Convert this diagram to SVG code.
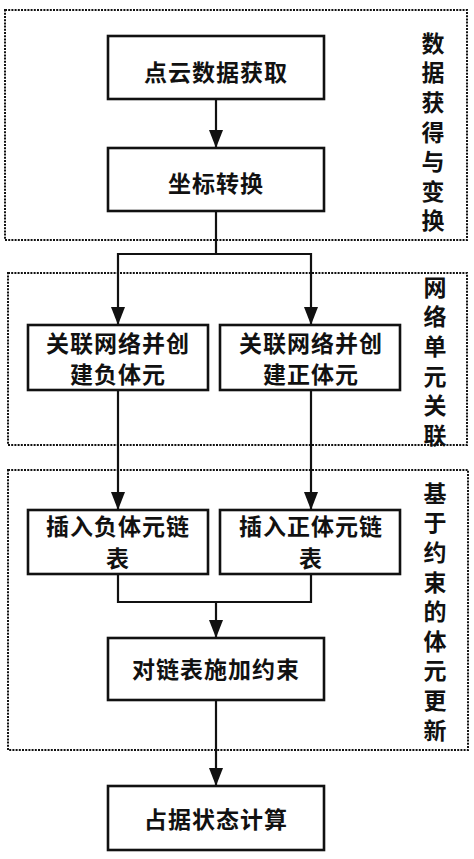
<svg xmlns="http://www.w3.org/2000/svg" width="474" height="859" viewBox="0 0 474 859">
<style>
.bg{fill:#fff}
.grp{fill:none;stroke:#111;stroke-width:2;stroke-dasharray:2 1.2}
.box{fill:#fff;stroke:#111;stroke-width:2.6}
.t{font-family:"Noto Sans CJK SC","Noto Sans",sans-serif;font-weight:bold;font-size:23px;letter-spacing:1px;fill:#111;text-anchor:middle;dominant-baseline:central}
.v{font-family:"Noto Sans CJK SC","Noto Sans",sans-serif;font-weight:bold;font-size:23px;fill:#111;writing-mode:vertical-rl;text-anchor:start;letter-spacing:6.6px}
.c{fill:none;stroke:#111;stroke-width:2.2}
</style>
<defs>
<marker id="ah" markerUnits="userSpaceOnUse" markerWidth="19" markerHeight="14" refX="18" refY="7" orient="auto">
<path d="M0,0 L18,7 L0,14 Z" fill="#111"/>
</marker>
</defs>
<rect class="bg" x="0" y="0" width="474" height="859"/>
<g id="groups">
<rect class="grp" x="5" y="10" width="462" height="230"/>
<rect class="grp" x="8" y="273" width="459" height="172"/>
<rect class="grp" x="8" y="470" width="460" height="280"/>
</g>
<g id="group-labels">
<text class="v" x="433" y="31.5">数据获得与变换</text>
<text class="v" x="435" y="275.5">网络单元关联</text>
<text class="v" x="435" y="481.5">基于约束的体元更新</text>
</g>
<g id="connectors">
<line class="c" x1="216" y1="99" x2="216" y2="148" marker-end="url(#ah)"/>
<polyline class="c" points="216,211 216,254 118,254 118,325" marker-end="url(#ah)"/>
<polyline class="c" points="216,254 311,254 311,325" marker-end="url(#ah)"/>
<line class="c" x1="118" y1="390" x2="118" y2="510" marker-end="url(#ah)"/>
<line class="c" x1="311" y1="390" x2="311" y2="510" marker-end="url(#ah)"/>
<polyline class="c" points="118,574 118,602 311,602 311,574"/>
<line class="c" x1="216" y1="602" x2="216" y2="638" marker-end="url(#ah)"/>
<line class="c" x1="216" y1="700" x2="216" y2="786" marker-end="url(#ah)"/>
</g>
<g id="n1"><rect class="box" x="108" y="36" width="216" height="63"/><text class="t" x="216" y="71">点云数据获取</text></g>
<g id="n2"><rect class="box" x="108" y="148" width="216" height="63"/><text class="t" x="216" y="182">坐标转换</text></g>
<g id="n3"><rect class="box" x="28" y="325" width="180" height="65"/><text class="t"><tspan x="118" y="342">关联网络并创</tspan><tspan x="118" y="373">建负体元</tspan></text></g>
<g id="n4"><rect class="box" x="220" y="325" width="180" height="65"/><text class="t"><tspan x="311" y="342">关联网络并创</tspan><tspan x="311" y="373">建正体元</tspan></text></g>
<g id="n5"><rect class="box" x="28" y="510" width="180" height="64"/><text class="t"><tspan x="118" y="525">插入负体元链</tspan><tspan x="118" y="557">表</tspan></text></g>
<g id="n6"><rect class="box" x="220" y="510" width="180" height="64"/><text class="t"><tspan x="311" y="525">插入正体元链</tspan><tspan x="311" y="557">表</tspan></text></g>
<g id="n7"><rect class="box" x="108" y="638" width="216" height="62"/><text class="t" x="216" y="668">对链表施加约束</text></g>
<g id="n8"><rect class="box" x="108" y="786" width="216" height="64"/><text class="t" x="216" y="818">占据状态计算</text></g>
</svg>
